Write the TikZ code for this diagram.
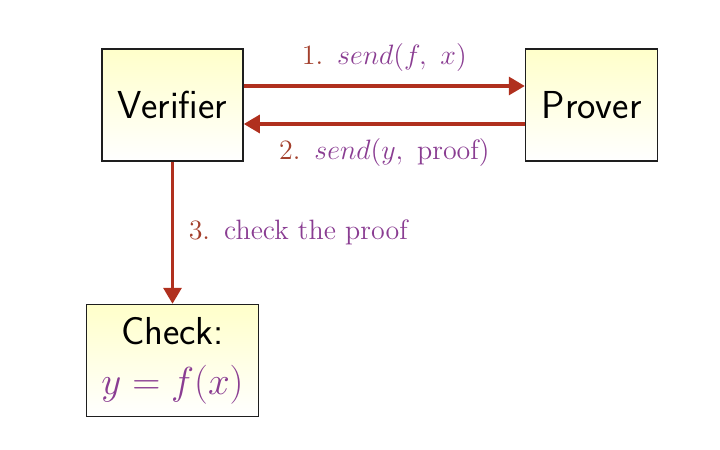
\RequirePackage{fix-cm}
\documentclass[tikz,border=0pt]{standalone}
\usepackage{amsmath}
\usepackage{fontspec}
\usetikzlibrary{arrows.meta,positioning}
\definecolor{VPRed}{HTML}{B0301E}
\definecolor{VPNum}{HTML}{A33F2C}
\definecolor{VPPurple}{HTML}{8A3D92}
\definecolor{VPYellow}{HTML}{FFFFCA}
\definecolor{VPEdge}{HTML}{1E1E1E}

\begin{document}
\begin{tikzpicture}[x=1pt,y=1pt,
    box/.style={draw=VPEdge,line width=0.8pt,top color=VPYellow,bottom color=white,
      minimum height=56pt,inner sep=0pt,align=center,
      font=\fontsize{19.5}{25}\selectfont\sffamily},
    arrow/.style={-{Triangle[length=8pt,width=9pt]},line width=1.6pt,color=VPRed},
    lbl/.style={font=\fontsize{14}{17}\selectfont,text=VPPurple}
  ]
    \useasboundingbox (0,0) rectangle (360,225);
    \node[box,minimum width=70.5pt] (verifier) at (86.25,172.5) {Verifier};
    \node[box,minimum width=66pt,right=140.5pt of verifier] (prover) {Prover};
    \node[box,minimum width=86pt,below=71pt of verifier] (check)
      {Check:\\\textcolor{VPPurple}{$y=f(x)$}};
    \draw[arrow] ([yshift=9.5pt]verifier.east) --
      node[lbl,above=3pt] {\textcolor{VPNum}{1.}\enspace$send(f,\ x)$}
      ([yshift=9.5pt]prover.west);
    \draw[arrow] ([yshift=-9.5pt]prover.west) --
      node[lbl,below=3pt] {\textcolor{VPNum}{2.}\enspace$send(y,\ \mathrm{proof})$}
      ([yshift=-9.5pt]verifier.east);
    \draw[arrow] (verifier) --
      node[lbl,right=4pt] {\textcolor{VPNum}{3.}\enspace check the proof}
      (check);
  \end{tikzpicture}
\end{document}
